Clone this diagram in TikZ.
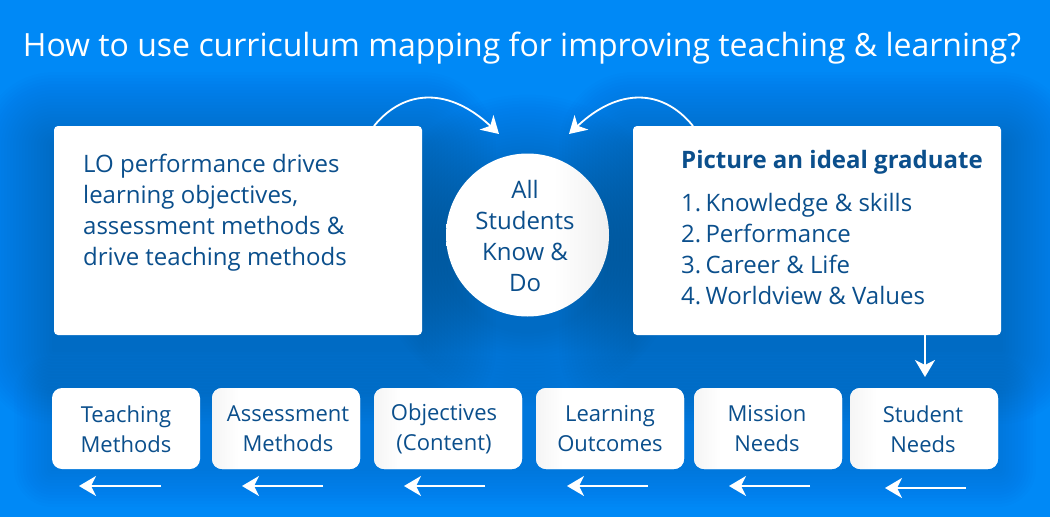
\documentclass[tikz,border=0pt]{standalone}
\usepackage{fontspec}
\setmainfont{Open Sans}
\usepackage{xcolor}
\usetikzlibrary{arrows.meta,calc,positioning}
\definecolor{bgblue}{HTML}{0089F6}
\definecolor{inkblue}{HTML}{0B4F8C}
\pgfdeclarehorizontalshading{edgefade}{100bp}{color(0bp)=(black!4); color(25bp)=(black!4); color(34bp)=(white); color(100bp)=(white)}
\pgfdeclarehorizontalshading{hubfade}{100bp}{color(0bp)=(white); color(58bp)=(white); color(75bp)=(black!6); color(100bp)=(black!6)}
\tikzset{
  bigbox/.style={fill=white,rounded corners=4pt,minimum width=368pt,minimum height=209pt,inner sep=0pt},
  smallbox/.style={fill=white,rounded corners=10pt,minimum width=148pt,minimum height=81pt,inner sep=0pt},
  fadebox/.style={smallbox,shading=edgefade},
  smalltext/.style={inner sep=0pt,text=inkblue,align=center,font=\fontsize{22}{30}\selectfont},
  hubcircle/.style={circle,minimum size=163pt,inner sep=0pt,shading=hubfade},
  bodytext/.style={inner sep=0pt,text=inkblue,align=left,font=\fontsize{24}{31}\selectfont},
  flowline/.style={draw=white,line width=1.8pt,-{Stealth[length=17pt,width=20pt,inset=5pt]}},
  softshade/.style={fill=black,fill opacity=.006},
}
\begin{document}
\begin{tikzpicture}[x=1pt,y=-1pt]
\useasboundingbox (0,0) rectangle (1050,517);
\fill[bgblue] (0,0) rectangle (1050,517);
% soft shadows behind the boxes
\foreach \i in {2,5,...,74} {
  \fill[softshade,rounded corners=\i pt] (54-\i,146-\i) rectangle (422+\i,350+\i);
  \fill[softshade,rounded corners=\i pt] (633-\i,146-\i) rectangle (1001+\i,350+\i);
  \fill[softshade] (527.5,250) circle[radius=81.5+\i];
}
\foreach \i in {2,5,...,38} {
  \fill[softshade,rounded corners=\i pt] (52-\i,394-\i) rectangle (998+\i,469+\i);
}
\node[inner sep=0pt,text=white,font=\fontsize{32}{36}\selectfont] (title) at (522,48) {How to use curriculum mapping for improving teaching \& learning?};
% top row
\node[bigbox] (leftbox) at (238,230.5) {};
\node[bigbox] (rightbox) at (817,230.5) {};
\node[hubcircle] (hub) at (527.5,235) {};
\node[bodytext,align=center] (hubtext) at (525,236) {All\\Students\\Know \&\\Do};
\node[bodytext,anchor=north west] (lefttext) at (83,154) {LO performance drives\\learning objectives,\\assessment methods \&\\drive teaching methods};
\node[bodytext,anchor=west,font=\fontsize{24}{31}\selectfont\bfseries] (righthead) at (681,162) {Picture an ideal graduate};
\node[bodytext,anchor=north west] (rightlist) at (681,193) {1.\kern-2pt\ Knowledge \& skills\\2.\kern-2pt\ Performance\\3.\kern-2pt\ Career \& Life\\4.\kern-2pt\ Worldview \& Values};
% bottom row
\node[smallbox] (teaching) at (126,428.5) {};
\node[fadebox] (assessment) at (286,428.5) {};
\node[fadebox] (objectives) at (448,428.5) {};
\node[fadebox] (outcomes) at (610,428.5) {};
\node[fadebox] (mission) at (768,428.5) {};
\node[fadebox] (student) at (924,428.5) {};
\node[smalltext] (teachingtext) at (126,429) {Teaching\\Methods};
\node[smalltext] (assessmenttext) at (288,429) {Assessment\\Methods};
\node[smalltext] (objectivestext) at (444,429) {Objectives\\(Content)};
\node[smalltext] (outcomestext) at (610,429) {Learning\\Outcomes};
\node[smalltext] (missiontext) at (767,429) {Mission\\Needs};
\node[smalltext] (studenttext) at (923,429) {Student\\Needs};
% free ends of the arrows
\coordinate (ltail) at (374,126);
\coordinate (lhead) at (499,134);
\coordinate (rtail) at (693,126);
\coordinate (rhead) at (569,134);
\coordinate (dtail) at (925,335);
\coordinate (dhead) at (925,377);
\draw[flowline] (ltail) .. controls (405,88) and (450,88) .. (lhead);
\draw[flowline] (rtail) .. controls (662,88) and (618,88) .. (rhead);
\draw[flowline] (dtail) to (dhead);
\coordinate (a1) at (161,486);
\coordinate (b1) at (79,486);
\coordinate (a2) at (323,486);
\coordinate (b2) at (242,486);
\coordinate (a3) at (485,486);
\coordinate (b3) at (404,486);
\coordinate (a4) at (648,486);
\coordinate (b4) at (567,486);
\coordinate (a5) at (810,486);
\coordinate (b5) at (729,486);
\coordinate (a6) at (966,488);
\coordinate (b6) at (885,488);
\foreach \i in {1,...,6} {
  \draw[flowline] (a\i) to (b\i);
}
\end{tikzpicture}
\end{document}
